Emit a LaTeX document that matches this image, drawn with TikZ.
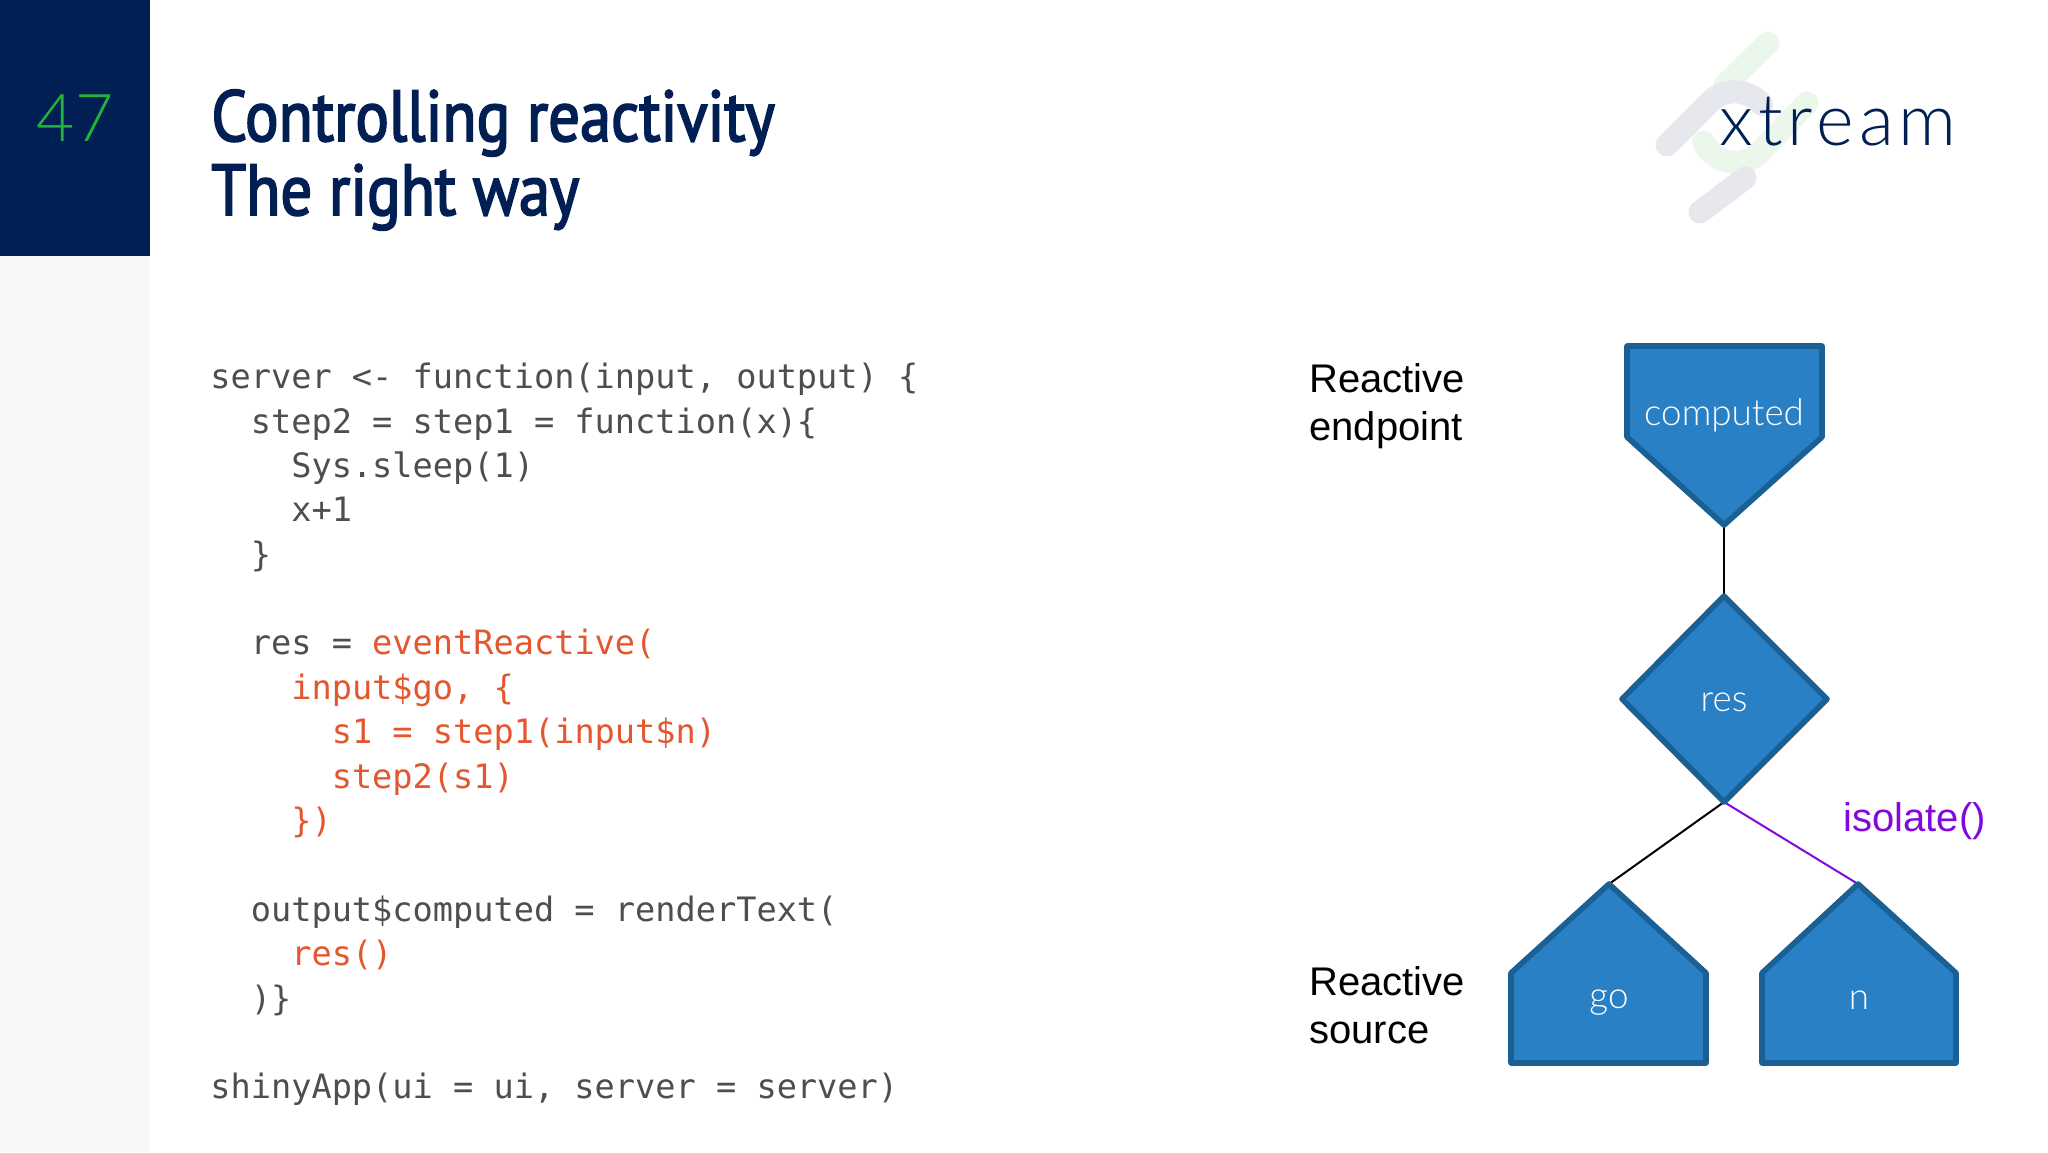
\documentclass[tikz,border=0pt]{standalone}
\usepackage{fontspec}
\usetikzlibrary{positioning}
\setmainfont{Liberation Sans}
\newfontfamily\titlefont[FakeStretch=0.87,FakeBold=2.5]{PT Sans}
\newfontfamily\numfont{Lato Light}
\newfontfamily\logofont[LetterSpace=7]{Lato Light}
\newfontfamily\codefont{DejaVu Sans Mono}
\newfontfamily\shapefont{Lato Light}
\definecolor{navy}{HTML}{021F54}
\definecolor{numgreen}{HTML}{22B33C}
\definecolor{sidegray}{HTML}{F7F7FA}
\definecolor{codegray}{HTML}{4D4D52}
\definecolor{codered}{HTML}{E4572E}
\definecolor{shapefill}{HTML}{2980C4}
\definecolor{shapeline}{HTML}{1B6094}
\definecolor{isolatecol}{HTML}{8208DC}
\definecolor{logogray}{HTML}{E6E8EE}
\definecolor{logogreen}{HTML}{ECF7EC}
\tikzset{
  x=0.5pt, y=-0.5pt,
  titletext/.style={anchor=base west, inner sep=0, text=navy, font=\titlefont\fontsize{36}{36}\selectfont},
  codeline/.style={anchor=base west, inner sep=0, text=codegray, font=\codefont\fontsize{16.8}{20}\selectfont},
  coderedline/.style={codeline, text=codered},
  sidelabel/.style={anchor=base west, inner sep=0, text=black, font=\fontsize{20}{24}\selectfont},
  reactshape/.style={draw=shapeline, fill=shapefill, line width=2.8pt, line join=round},
  shapelabel/.style={inner sep=0, text=white, font=\shapefont\fontsize{18.4}{22}\selectfont},
  logostroke/.style={line width=11.5pt, line cap=round},
}
\begin{document}
\begin{tikzpicture}
  \useasboundingbox (0,0) rectangle (2048,1152);
  \fill[white] (0,0) rectangle (2048,1152);
  \fill[sidegray] (0,256) rectangle (150,1152);
  \fill[navy] (0,0) rectangle (150,256);
  \node[inner sep=0, text=numgreen, font=\numfont\fontsize{33}{33}\selectfont] (num) at (75,118) {47};
  \node[titletext] (title1) at (211,141) {Controlling reactivity};
  \node[titletext] (title2) at (211,215) {The right way};
  % logo
  \draw[logostroke, logogreen] (1768,43) -- (1725,85);
  \draw[logostroke, logogreen] (1807,103) -- (1760,152) arc (45:155:35);
  \draw[logostroke, logogray] (1667,145) -- (1710,102) arc (225:320:35);
  \draw[logostroke, logogray] (1700,212) -- (1745,178);
  \node[anchor=base west, inner sep=0, text=navy, font=\logofont\fontsize{36}{36}\selectfont] (logo) at (1719,145) {xtream};
  % code
  \node[codeline] (c1) at (210,388) {server <- function(input, output) \{};
  \node[codeline] (c2) at (210,433) {\ \ step2 = step1 = function(x)\{};
  \node[codeline] (c3) at (210,477) {\ \ \ \ Sys.sleep(1)};
  \node[codeline] (c4) at (210,521) {\ \ \ \ x+1};
  \node[codeline] (c5) at (210,566) {\ \ \}};
  \node[codeline] (c6) at (210,654) {\ \ res = \textcolor{codered}{eventReactive(}};
  \node[coderedline] (c7) at (210,699) {\ \ \ \ input\$go, \{};
  \node[coderedline] (c8) at (210,743) {\ \ \ \ \ \ s1 = step1(input\$n)};
  \node[coderedline] (c9) at (210,788) {\ \ \ \ \ \ step2(s1)};
  \node[coderedline] (c10) at (210,832) {\ \ \ \ \})};
  \node[codeline] (c11) at (210,921) {\ \ output\$computed = renderText(};
  \node[coderedline] (c12) at (210,965) {\ \ \ \ res()};
  \node[codeline] (c13) at (210,1010) {\ \ )\}};
  \node[codeline] (c14) at (210,1098) {shinyApp(ui = ui, server = server)};
  % labels
  \node[sidelabel] (ep1) at (1309,392) {Reactive};
  \node[sidelabel] (ep2) at (1309,440) {endpoint};
  \node[sidelabel] (sr1) at (1309,995) {Reactive};
  \node[sidelabel] (sr2) at (1309,1043) {source};
  \node[sidelabel, text=isolatecol] (iso) at (1843,831) {isolate()};
  % connectors
  \coordinate (computedtip) at (1724,525);
  \coordinate (restop) at (1724,596);
  \coordinate (resbot) at (1724,802);
  \coordinate (gotop) at (1609,884);
  \coordinate (ntop) at (1858,884);
  \draw[line width=1pt] (computedtip) -- (restop);
  \draw[line width=1pt] (resbot) -- (gotop);
  \draw[line width=1pt, isolatecol] (resbot) -- (ntop);
  % shapes
  \draw[reactshape] (1627,346) -- (1822,346) -- (1822,437) -- (computedtip) -- (1627,437) -- cycle;
  \draw[reactshape] (restop) -- (1827,699) -- (resbot) -- (1622,699) -- cycle;
  \draw[reactshape] (gotop) -- (1706,973) -- (1706,1063) -- (1511,1063) -- (1511,973) -- cycle;
  \draw[reactshape] (ntop) -- (1956,973) -- (1956,1063) -- (1762,1063) -- (1762,973) -- cycle;
  \node[shapelabel] (computed) at (1724,415) {computed};
  \node[shapelabel] (res) at (1724,702) {res};
  \node[shapelabel] (go) at (1609,1003) {go};
  \node[shapelabel] (n) at (1859,1000) {n};
\end{tikzpicture}
\end{document}
